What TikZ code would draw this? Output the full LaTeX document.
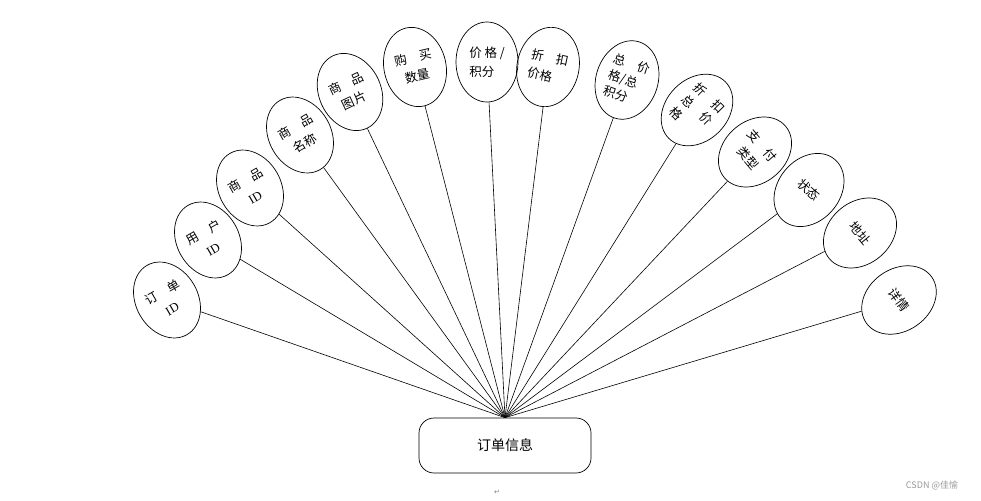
\documentclass[tikz,border=0pt]{standalone}
\usepackage{fontspec}
\setmainfont{Liberation Serif}
\newfontfamily\cjk{Noto Sans CJK SC}
\newfontfamily\symfont{DejaVu Sans}
\usetikzlibrary{shapes.geometric}
\newcommand{\idtext}{{\rmfamily ID}}
\tikzset{
  attr/.style={draw, line width=0.7pt, ellipse, minimum width=62pt, minimum height=80pt,
    inner sep=0pt, align=center, font=\cjk\fontsize{12.5}{19}\selectfont},
  entity/.style={draw, line width=0.7pt, rounded corners=15pt, minimum width=172pt,
    minimum height=55pt, font=\cjk\fontsize{14}{16}\selectfont},
  link/.style={line width=0.6pt}
}
\begin{document}
\begin{tikzpicture}[x=1pt, y=-1pt]
    \useasboundingbox (0,0) rectangle (981,500);
    % 
    \node[entity] (order) at (505,445.5) {订单信息};
    %%%%%%%%%%%%%%%%%%%%%% 
    \node[attr, rotate=30] (oid) at (167,300) {订\quad 单\\\idtext};
    % 
    \node[attr, rotate=30] (uid) at (208,240) {用\quad 户\\\idtext};
    % 
    \node[attr, rotate=30] (gid) at (250,188) {商\quad 品\\\idtext};
    % 
    \node[attr, rotate=30] (gname) at (300,135) {商\quad 品\\名称};
    % 
    \node[attr, rotate=25] (gpic) at (350,92) {商\quad 品\\图片};
    % 
    \node[attr, rotate=13] (num) at (415,67) {购\quad 买\\数量};
    % 
    \node[attr, align=left] (price) at (487,62) {价 格 /\\积分};
    % 
    \node[attr, rotate=-12, align=left] (dprice) at (548,67) {折\quad 扣\\价格};
    %%%%%%%%%%%%%%%%%%%%%% 
    \node[attr, rotate=-18, align=left, font=\cjk\fontsize{12.5}{17}\selectfont] (total) at (627,80) {总\quad 价\\格/总\\积分};
    % 
    \node[attr, rotate=-45, align=left, font=\cjk\fontsize{12.5}{17}\selectfont] (dtotal) at (697,110) {折\quad 扣\\总\quad 价\\格};
    % 
    \node[attr, rotate=-50] (paytype) at (755,152) {支\quad 付\\类型};
    % 
    \node[attr, rotate=-40] (state) at (809,190) {状态};
    % 
    \node[attr, rotate=-50] (addr) at (860,233) {地址};
    % 
    \node[attr, rotate=-55] (detail) at (899,300) {详情};
    %%%%%%%%%%%%%%%%%%%%%% 
    \foreach \a in {oid,uid,gid,gname,gpic,num,price,dprice,total,dtotal,paytype,state,addr,detail}
      \draw[link] (\a) -- (order.north);
    % 
    \node[font=\symfont\fontsize{7}{8}\selectfont, text=gray] (mark) at (497,492) {↵};
    % 
    \node[font=\cjk\fontsize{9}{10}\selectfont, text=gray!80] (wm) at (932,485) {CSDN @佳愉};
  \end{tikzpicture}
\end{document}
